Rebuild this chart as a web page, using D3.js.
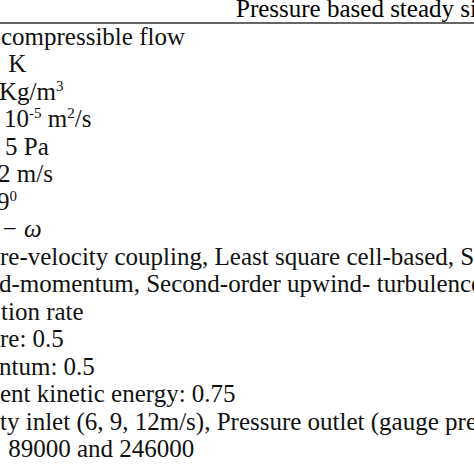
<!DOCTYPE html>
<html><head><meta charset="utf-8">
<script src="https://cdn.jsdelivr.net/npm/d3@7"></script>
<style>body{margin:0;background:#fff;overflow:hidden}</style>
</head><body><div id="chart"></div>
<script>
"use strict"

// header cell (right column title, cut off by the crop)
let headerText = "Pressure based steady simulation";

// table rows: list of [text, style] segments as seen in the crop
let rowSegments = [
    [["compressible flow"]],
    [[" K"]],
    [["Kg/m"], ["3", "sup"]],
    [["10"], ["-5", "sup"], [" m"], ["2", "sup"], ["/s"]],
    [["5 Pa"]],
    [["2 m/s"]],
    [["9"], ["0", "sup"]],
    [["\u2212 \u03c9", "it"]],
    [["re-velocity coupling, Least square cell-based, Second-order"]],
    [["d-momentum, Second-order upwind- turbulence, dissipation"]],
    [["tion rate"]],
    [["re: 0.5"]],
    [["ntum: 0.5"]],
    [["ent kinetic energy: 0.75"]],
    [["ty inlet (6, 9, 12m/s), Pressure outlet (gauge pressure 0 Pa)"]],
    [[" 89000 and 246000"]]
];
let rowStart = [1, 2, -1, 4, 5, -2, -3, 1, 0, -1, 1, 0, -1, 0, 0, 2];

let W = 474, H = 474;
let font = "'Liberation Serif', 'Times New Roman', serif";
let svg = d3.select("#chart").append("svg")
    .attr("width", W).attr("height", H);

let y = d3.scaleLinear().domain([0, rowSegments.length - 1]).range([45, 457]);

svg.append("text")
    .attr("x", 236).attr("y", 17)
    .style("font-family", font)
    .style("font-size", "25px")
    .text(headerText);

svg.append("line")
    .attr("x1", 0).attr("x2", W).attr("y1", 23).attr("y2", 23)
    .style("stroke", "#333").style("stroke-width", "1.6px");

rowSegments.forEach(function(segs, i) {
    let t = svg.append("text")
        .attr("x", rowStart[i]).attr("y", y(i))
        .attr("xml:space", "preserve")
        .style("font-family", font)
        .style("font-size", "25px")
        .style("fill", "#111");
    segs.forEach(function(s) {
        let ts = t.append("tspan").text(s[0]);
        if (s[1] === "sup") {
            ts.attr("baseline-shift", "9").style("font-size", "15px");
        } else if (s[1] === "it") {
            ts.style("font-style", "italic");
        }
    });
});
</script>
</body></html>
